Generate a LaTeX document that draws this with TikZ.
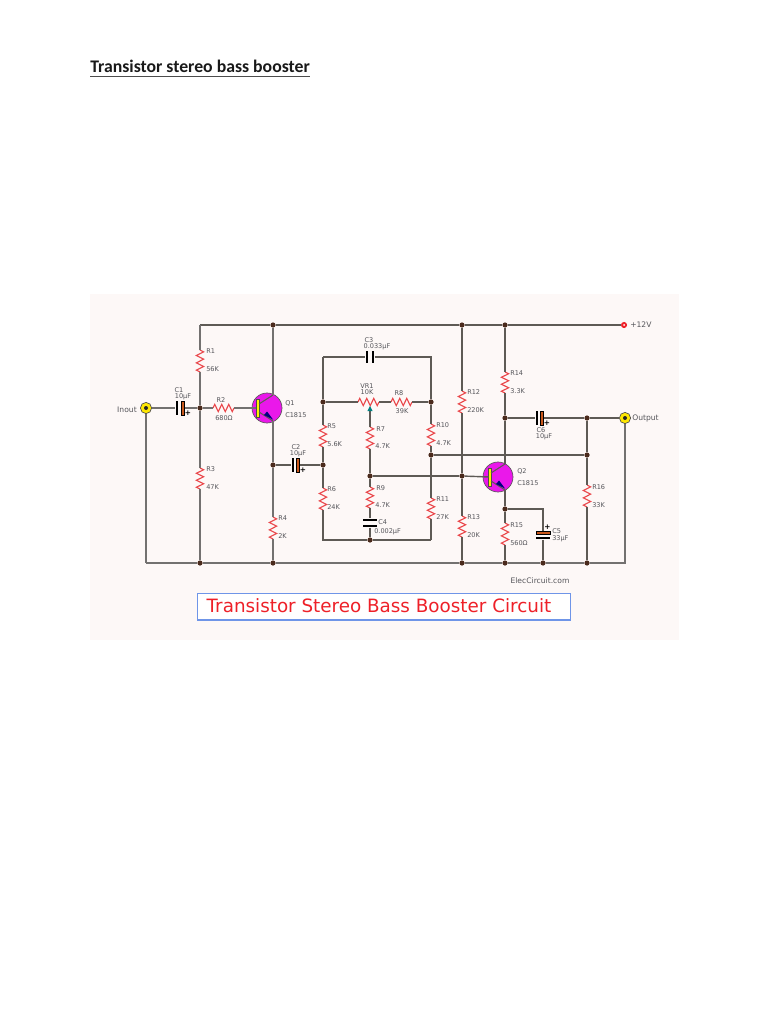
\documentclass[tikz,border=0pt]{standalone}
\usepackage{fontspec}
\setmainfont{DejaVu Sans}
\newfontfamily\titlefont{Carlito}
\usetikzlibrary{shapes.geometric}
\definecolor{wirec}{HTML}{5E5A55}
\definecolor{wirel}{HTML}{737170}
\definecolor{labc}{HTML}{55555A}
\definecolor{resc}{HTML}{EA4A4E}
\definecolor{dotc}{HTML}{4A2A1C}
\definecolor{bgc}{HTML}{FDF8F7}
\definecolor{orangec}{HTML}{C9581C}
\definecolor{magc}{HTML}{EA18EA}
\definecolor{boxc}{HTML}{6F95E8}
\definecolor{redt}{HTML}{EE2028}
\newcounter{labn}
\tikzset{
 wire/.style={draw=wirec,line width=1.05pt},
 wirelight/.style={draw=wirel,line width=1.15pt},
 res/.style={draw=resc,line width=0.85pt,line join=miter},
 dot/.style={circle,fill=dotc,draw=none,minimum size=3.9pt,inner sep=0pt},
 lab/.style={text=labc,font=\fontsize{4.9}{6}\selectfont,inner sep=0pt},
 big/.style={text=labc,font=\fontsize{5.7}{7}\selectfont,inner sep=0pt},
 blackv/.style={rectangle,fill=black,minimum width=2.2pt,minimum height=10.5pt,inner sep=0pt},
 orangev/.style={rectangle,fill=orangec,draw=black,line width=0.2pt,minimum width=2.4pt,minimum height=10.5pt,inner sep=0pt},
 blackh/.style={rectangle,fill=black,minimum width=11pt,minimum height=2.2pt,inner sep=0pt},
 orangeh/.style={rectangle,fill=orangec,draw=black,line width=0.2pt,minimum width=11pt,minimum height=2.4pt,inner sep=0pt},
 jack/.style={circle,fill=yellow!90!orange,draw=black!70,line width=0.5pt,minimum size=8.4pt,inner sep=0pt},
 jackc/.style={circle,fill=black!85,minimum size=3pt,inner sep=0pt},
 qbody/.style={circle,fill=magc,draw=black!65,line width=0.5pt,minimum size=22.5pt,inner sep=0pt},
 qbar/.style={rectangle,fill=yellow,draw=black!70,line width=0.3pt,minimum width=2.2pt,minimum height=13.5pt,inner sep=0pt},
}
\newcommand\lb[4][west]{\stepcounter{labn}\node[lab,anchor=#1] (lab\thelabn) at (#2,#3) {#4};}
\newcommand\lbb[4][west]{\stepcounter{labn}\node[big,anchor=#1] (lab\thelabn) at (#2,#3) {#4};}
% vertical resistor: name, x, y1, y2
\newcommand\vres[4]{%
 \pgfmathsetmacro\hh{(#4-#3)/12}%
 \coordinate (#1-a) at (#2,#3);\coordinate (#1-b) at (#2,#4);
 \draw[res] (#1-a) -- ++(3.6,\hh) -- ++(-7.2,2*\hh) -- ++(7.2,2*\hh) -- ++(-7.2,2*\hh) -- ++(7.2,2*\hh) -- ++(-7.2,2*\hh) -- (#1-b);}
% horizontal resistor: name, y, x1, x2
\newcommand\hres[4]{%
 \pgfmathsetmacro\hh{(#4-#3)/12}%
 \coordinate (#1-a) at (#3,#2);\coordinate (#1-b) at (#4,#2);
 \draw[res] (#1-a) -- ++(\hh,-3.6) -- ++(2*\hh,7.2) -- ++(2*\hh,-7.2) -- ++(2*\hh,7.2) -- ++(2*\hh,-7.2) -- ++(2*\hh,7.2) -- (#1-b);}
% transistor: name, cx, cy, collector/emitter dx, bar dx
\newcommand\npn[5]{%
 \node[qbody] (#1) at (#2,#3) {};
 \begin{scope}[shift={(#2,#3)}]
 \coordinate (#1-c) at (#4,-13);\coordinate (#1-e) at (#4,13);
 \node[qbar] (#1-bar) at (#5,0) {};
 \draw[wire,line width=0.8pt] (#1-bar.center) ++(1,-4) -- (#1-c);
 \draw[wire,line width=0.8pt] (#1-bar.center) ++(1,4) -- (#1-e);
 \fill[black!50!blue] (#4,11.5) -- (#4-9,7) -- (#4-6,3.5) -- cycle;
 \end{scope}}
\pagestyle{empty}
\begin{document}
\begin{tikzpicture}[x=0.75pt,y=-0.75pt]
\useasboundingbox (0,0) rectangle (768,1024);
\fill[bgc] (90,294) rectangle (679,640);
% heading
\node[font=\titlefont\bfseries\fontsize{13.3}{16}\selectfont,anchor=base west,inner sep=0pt,text=black!90] (heading) at (90,73) {Transistor stereo bass booster};
\draw[black!70,line width=1.15pt] (heading.west |- 0,76.5) coordinate (ula) -- (heading.east |- 0,76.5) coordinate (ulb);
% caption
\node[draw=boxc,line width=1pt,fill=white,minimum width=280pt,minimum height=20pt,anchor=north west,inner sep=0pt] (capbox) at (196.5,592.5) {};
\node[text=redt,font=\fontsize{13.75}{16}\selectfont,inner sep=0pt] (captxt) at (379,606) {Transistor Stereo Bass Booster Circuit};

% junctions
\foreach \n/\x/\y in {jq1top/273/325,jr12top/462/325,jr14top/505/325,
 jin/200/408,jc2l/273/465,jc2r/323/465,jl/323/402,jr/431/402,jr10/431/455,
 jb2/370/476,jb3/462/476,jc4/370/540,jc6/505/418,jout/587/418,jfb/587/455,je2/505/509,
 gr3/200/563,gr4/273/563,gr13/462/563,gr15/505/563,gc5/543/563,gr16/587/563}
 {\node[dot] (\n) at (\x,\y) {};}
% corner points
\coordinate (tl) at (200,325);
\coordinate (bl) at (146,563);
\coordinate (br) at (625,563);
\coordinate (c3l) at (323,357);
\coordinate (c3r) at (431,357);
\coordinate (bbl) at (323,540);
\coordinate (bbr) at (431,540);
\coordinate (c5t) at (543,509);

% resistors
\vres{r1}{200}{350}{372}
\vres{r3}{200}{468}{489}
\hres{r2}{408}{213}{234}
\vres{r4}{273}{517}{539}
\vres{r5}{323}{425}{447}
\vres{r6}{323}{488}{510}
\hres{vr1}{402}{358}{379}
\hres{r8}{402}{391}{412}
\vres{r7}{370}{427}{449}
\vres{r9}{370}{487}{508}
\vres{r10}{431}{424}{446}
\vres{r11}{431}{498}{519}
\vres{r12}{462}{391}{413}
\vres{r13}{462}{516}{537}
\vres{r14}{505}{372}{393}
\vres{r15}{505}{523}{545}
\vres{r16}{587}{485}{507}

% capacitors
\node[blackv] (c1a) at (177,408) {};\node[orangev] (c1b) at (183,408) {};
\node[blackv] (c2a) at (293,465) {};\node[orangev] (c2b) at (298,465) {};
\node[blackv] (c6a) at (537,418) {};\node[orangev] (c6b) at (542,418) {};
\node[blackv,minimum height=9.5pt] (c3a) at (367,357) {};\node[blackv,minimum height=9.5pt] (c3b) at (373,357) {};
\node[blackh] (c4a) at (370,520) {};\node[blackh] (c4b) at (370,526) {};
\node[orangeh] (c5a) at (543,533) {};\node[blackh] (c5b) at (543,538) {};

% terminals
\node[jack] (in) at (146,408) {};
\node[jack] (out) at (625,418) {};
\node[circle,fill=redt,minimum size=4.6pt,inner sep=0pt] (vcc) at (624,325) {};

% wires
\draw[wire] (tl) -- (jq1top) -- (jr12top) -- (jr14top) -- (vcc);
\draw[wirelight] (tl) -- (r1-a) (r1-b) -- (jin) -- (r3-a) (r3-b) -- (gr3);
\draw[wirelight] (bl) -- (gr3) -- (gr4) -- (gr13) -- (gr15) -- (gc5) -- (gr16) -- (br) -- (out);
\draw[wirelight] (in) -- (bl);
\draw[wirelight] (in) -- (c1a) (c1b) -- (jin) -- (r2-a);
\draw[wirelight] (jq1top) -- (jc2l) -- (r4-a) (r4-b) -- (gr4);
\draw[wire] (jc2l) -- (c2a) (c2b) -- (jc2r);
\draw[wire] (c3l) -- (jl) -- (r5-a) (r5-b) -- (jc2r) -- (r6-a) (r6-b) -- (bbl) -- (jc4) -- (bbr);
\draw[wire] (c3l) -- (c3a) (c3b) -- (c3r) -- (jr) -- (r10-a) (r10-b) -- (jr10) -- (r11-a) (r11-b) -- (bbr);
\draw[wire] (jl) -- (vr1-a) (vr1-b) -- (r8-a) (r8-b) -- (jr);
\coordinate (wip) at (370,409);
\draw[wire] (wip) -- (r7-a) (r7-b) -- (jb2) -- (r9-a) (r9-b) -- (c4a) (c4b) -- (jc4);
\fill[teal] (370,406) -- (372.6,411) -- (367.4,411) -- cycle;
\draw[wire] (jr10) -- (jfb);
\draw[wire] (jb2) -- (jb3);
\draw[wire] (jr12top) -- (r12-a) (r12-b) -- (jb3) -- (r13-a) (r13-b) -- (gr13);
\draw[wire] (jr14top) -- (r14-a) (r14-b) -- (jc6) -- (c6a) (c6b) -- (jout) -- (out);
\draw[wire] (jout) -- (jfb) -- (r16-a) (r16-b) -- (gr16);
\draw[wire] (je2) -- (r15-a) (r15-b) -- (gr15);
\draw[wire] (je2) -- (c5t) -- (c5a) (c5b) -- (gc5);

% transistors
\npn{q1}{267}{408}{6}{-9}
\npn{q2}{498}{477}{7}{-8}
\draw[wirelight] (r2-b) -- (q1-bar);
\draw[wire] (jb3) -- (q2-bar);
\draw[wirelight] (jq1top) -- (q1-c);
\draw[wirelight] (q1-e) -- (jc2l);
\draw[wire] (jc6) -- (q2-c);
\draw[wire] (q2-e) -- (je2);
\node[jackc] (inc) at (146,408) {};
\node[jackc] (outc) at (625,418) {};
\node[circle,fill=white,minimum size=1.5pt,inner sep=0pt] (vccc) at (624,325) {};

% plus signs
\foreach \x/\y in {188/413,303/470,547/423,547.5/527}
 {\stepcounter{labn}\node[font=\bfseries\fontsize{5.5}{6}\selectfont,text=black,inner sep=0pt] (lab\thelabn) at (\x,\y) {+};}

% labels
\lb{206}{351}{R1}\lb{206}{369}{56K}
\lb{206}{469}{R3}\lb{206}{487}{47K}
\lb[center]{179}{390}{C1}\lb[center]{183}{397}{10µF}
\lb[center]{221}{400}{R2}\lb[center]{224}{418}{680Ω}
\lb{285}{403}{Q1}\lb{285}{415}{C1815}
\lb[center]{296}{447}{C2}\lb[center]{298}{453.5}{10µF}
\lb{278}{518}{R4}\lb{278}{536}{2K}
\lb{327}{426}{R5}\lb{327}{444}{5.6K}
\lb{327}{489}{R6}\lb{327}{507}{24K}
\lb[center]{369}{340}{C3}\lb[center]{377}{347}{0.033µF}
\lb[center]{367}{386}{VR1}\lb[center]{367}{392.5}{10K}
\lb[center]{399}{393}{R8}\lb[center]{402}{411}{39K}
\lb{376}{429}{R7}\lb{375}{446}{4.7K}
\lb{376}{488}{R9}\lb{375}{505}{4.7K}
\lb{378}{522}{C4}\lb{374}{532}{0.002µF}
\lb{436}{425}{R10}\lb{436}{443}{4.7K}
\lb{436}{499}{R11}\lb{436}{517}{27K}
\lb{467}{392}{R12}\lb{467}{410}{220K}
\lb{467}{517}{R13}\lb{467}{535}{20K}
\lb{510}{373}{R14}\lb{510}{391}{3.3K}
\lb[center]{541}{430}{C6}\lb[center]{544}{437}{10µF}
\lb{517}{471}{Q2}\lb{517}{483}{C1815}
\lb{510}{525}{R15}\lb{510}{543}{560Ω}
\lb{552}{531}{C5}\lb{552}{538.5}{33µF}
\lb{592}{487}{R16}\lb{592}{505}{33K}
\lbb[east]{137}{410}{Inout}
\lbb{632}{418}{Output}
\lbb{630}{325}{+12V}
\lbb[center]{540}{581}{ElecCircuit.com}
\end{tikzpicture}
\end{document}
